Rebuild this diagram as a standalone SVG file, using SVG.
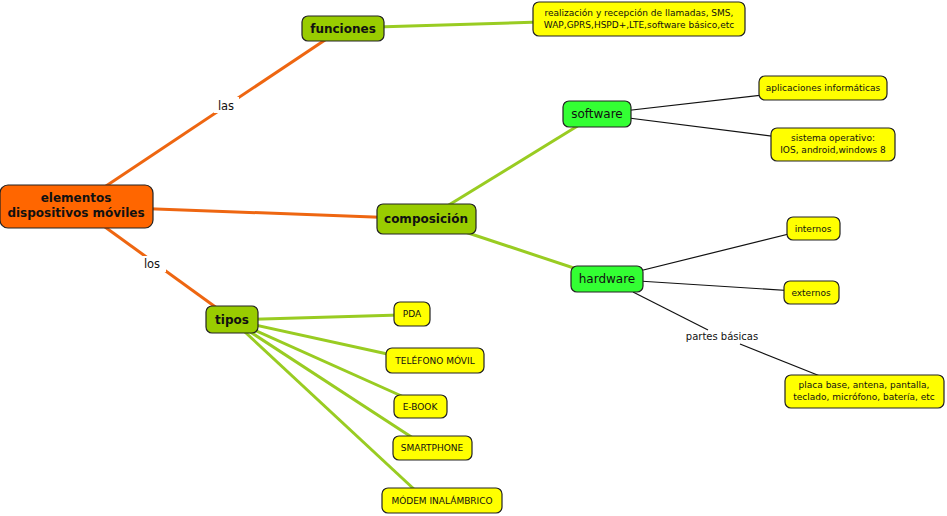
<svg xmlns="http://www.w3.org/2000/svg" width="947" height="516" viewBox="0 0 947 516">
<style>
.box{stroke:#222;stroke-width:1.2}
.main{fill:#ff6600}
.lvl1{fill:#99cc00}
.lvl2{fill:#33ff33}
.leaf{fill:#ffff00}
text{font-family:"DejaVu Sans",Verdana,sans-serif;fill:#111;text-anchor:middle}
.b{font-weight:bold;font-size:12px}
.n{font-size:12px}
.s{font-size:9px}
.lab{font-size:11.5px}
.o{stroke:#ee6611;stroke-width:3;fill:none}
.g{stroke:#99cc22;stroke-width:3;fill:none}
.k{stroke:#111;stroke-width:1.2;fill:none}
</style>
<rect width="947" height="516" fill="#fff"/>
<g id="connectors">
<line class="o" x1="76" y1="206" x2="343" y2="28"/>
<line class="o" x1="76" y1="206" x2="426" y2="219"/>
<line class="o" x1="76" y1="206" x2="232" y2="319"/>
<line class="g" x1="343" y1="28" x2="639" y2="19"/>
<line class="g" x1="426" y1="219" x2="597" y2="114"/>
<line class="g" x1="426" y1="219" x2="607" y2="279"/>
<line class="g" x1="232" y1="320" x2="400" y2="315"/>
<line class="g" x1="232" y1="320" x2="392" y2="355"/>
<line class="g" x1="232" y1="320" x2="406" y2="398"/>
<line class="g" x1="232" y1="320" x2="416" y2="440"/>
<line class="g" x1="232" y1="320" x2="416" y2="491"/>
<line class="k" x1="597" y1="114" x2="823" y2="88"/>
<line class="k" x1="597" y1="114" x2="833" y2="144"/>
<line class="k" x1="607" y1="279" x2="813" y2="228"/>
<line class="k" x1="607" y1="279" x2="811" y2="292"/>
<line class="k" x1="633" y1="292" x2="708" y2="330"/>
<line class="k" x1="740" y1="344" x2="830" y2="380"/>
<rect x="214" y="97" width="25" height="16" fill="#fff"/>
<text class="lab" x="226" y="110">las</text>
<rect x="138" y="256" width="28" height="16" fill="#fff"/>
<text class="lab" x="152" y="268">los</text>
<text class="s" x="722" y="340" style="font-size:10px">partes básicas</text>
</g>
<g id="elementos">
<rect class="box main" x="0" y="185" width="153" height="43" rx="8"/>
<text class="b" x="76" y="202">elementos</text>
<text class="b" x="76" y="217">dispositivos móviles</text>
</g>
<g id="funciones">
<rect class="box lvl1" x="302" y="16" width="82" height="25" rx="6"/>
<text class="b" x="343" y="33">funciones</text>
</g>
<g id="funciones-detalle">
<rect class="box leaf" x="533" y="2" width="212" height="34" rx="6"/>
<text class="s" x="639" y="16">realización y recepción de llamadas, SMS,</text>
<text class="s" x="639" y="28">WAP,GPRS,HSPD+,LTE,software básico,etc</text>
</g>
<g id="composicion">
<rect class="box lvl1" x="377" y="204" width="99" height="30" rx="6"/>
<text class="b" x="426" y="223">composición</text>
</g>
<g id="software">
<rect class="box lvl2" x="563" y="101" width="68" height="26" rx="6"/>
<text class="n" x="597" y="118">software</text>
</g>
<g id="aplicaciones">
<rect class="box leaf" x="759" y="76" width="128" height="24" rx="6"/>
<text class="s" x="823" y="91">aplicaciones informáticas</text>
</g>
<g id="sistema">
<rect class="box leaf" x="771" y="128" width="124" height="33" rx="6"/>
<text class="s" x="833" y="141">sistema operativo:</text>
<text class="s" x="833" y="153">IOS, android,windows 8</text>
</g>
<g id="hardware">
<rect class="box lvl2" x="571" y="266" width="72" height="26" rx="6"/>
<text class="n" x="607" y="283">hardware</text>
</g>
<g id="internos">
<rect class="box leaf" x="787" y="217" width="53" height="23" rx="6"/>
<text class="s" x="813" y="232">internos</text>
</g>
<g id="externos">
<rect class="box leaf" x="784" y="281" width="55" height="23" rx="6"/>
<text class="s" x="811" y="296">externos</text>
</g>
<g id="placa">
<rect class="box leaf" x="785" y="375" width="159" height="33" rx="6"/>
<text class="s" x="864" y="388">placa base, antena, pantalla,</text>
<text class="s" x="864" y="400">teclado, micrófono, batería, etc</text>
</g>
<g id="tipos">
<rect class="box lvl1" x="206" y="306" width="52" height="27" rx="6"/>
<text class="b" x="232" y="324">tipos</text>
</g>
<g id="pda">
<rect class="box leaf" x="394" y="302" width="36" height="24" rx="6"/>
<text class="s" x="412" y="317">PDA</text>
</g>
<g id="telefono">
<rect class="box leaf" x="386" y="348" width="98" height="25" rx="6"/>
<text class="s" x="435" y="364">TELÉFONO MÓVIL</text>
</g>
<g id="ebook">
<rect class="box leaf" x="394" y="395" width="53" height="23" rx="6"/>
<text class="s" x="420" y="410">E-BOOK</text>
</g>
<g id="smartphone">
<rect class="box leaf" x="393" y="436" width="79" height="24" rx="6"/>
<text class="s" x="432" y="451">SMARTPHONE</text>
</g>
<g id="modem">
<rect class="box leaf" x="382" y="488" width="120" height="25" rx="6"/>
<text class="s" x="442" y="504">MÓDEM INALÁMBRICO</text>
</g>
</svg>
